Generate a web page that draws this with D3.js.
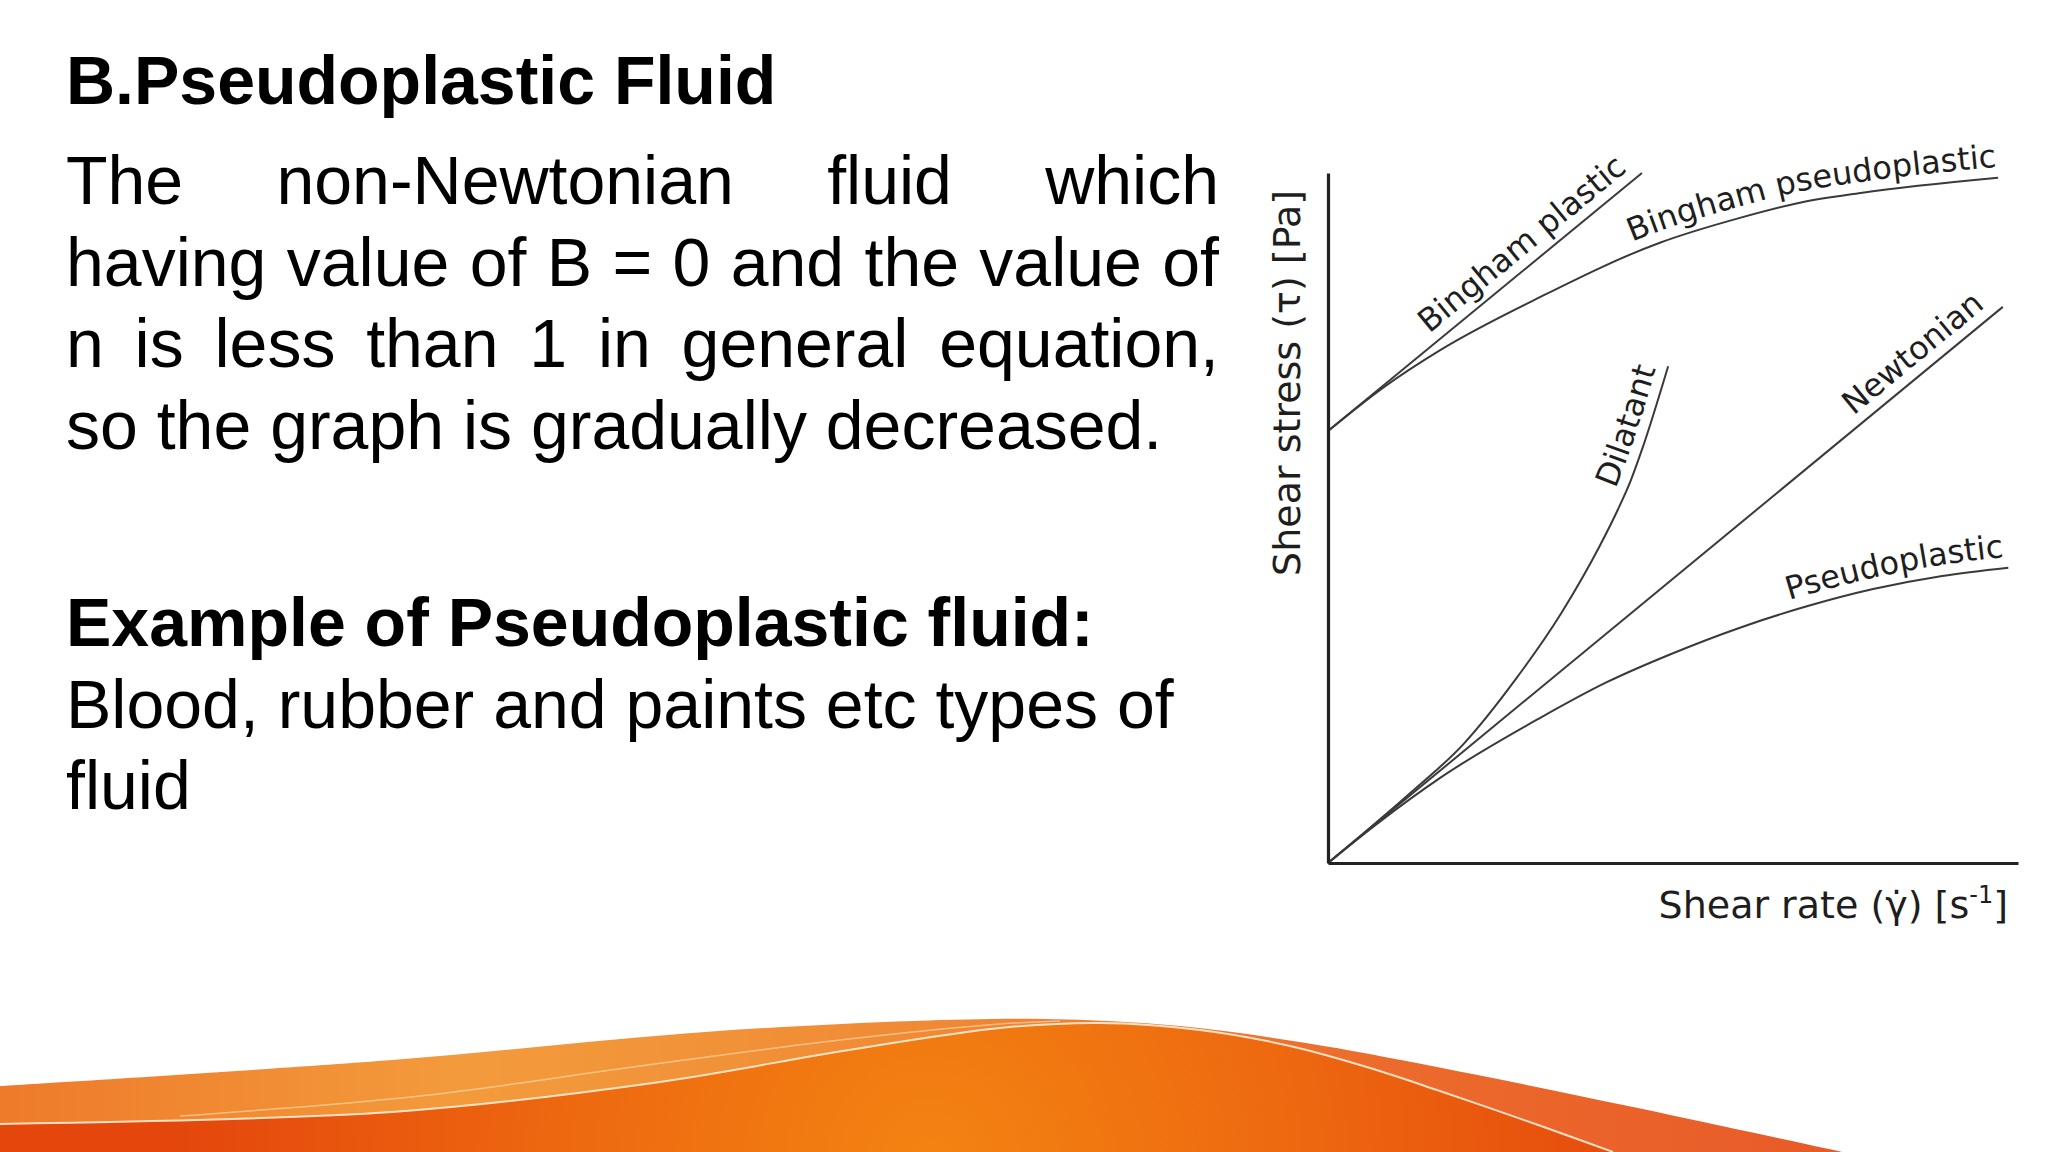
<!DOCTYPE html>
<html>
<head>
<meta charset="utf-8">
<script src="https://cdn.jsdelivr.net/npm/d3@7"></script>
<style>
    html, body { margin: 0; padding: 0; background: #fff; }
    svg { display: block; }
</style>
</head>
<body>
<svg id="slide" width="2048" height="1152"></svg>
<script>
// slide text
const titleText = "B.Pseudoplastic Fluid"
const bodyLines = [
    "The non-Newtonian fluid which",
    "having value of B = 0 and the value of",
    "n is less than 1 in general equation,",
    "so the graph is gradually decreased."
]
const exampleHeading = "Example of Pseudoplastic fluid:"
const exampleLines = ["Blood, rubber and paints etc types of", "fluid"]

// flow curves (shear rate / shear stress, no units, 0-10 both ways)
const seriesNames = ["Bingham plastic", "Bingham pseudoplastic", "Dilatant", "Newtonian", "Pseudoplastic"]
const binghamPlasticX = [0, 4.55]
const binghamPlasticY = [6.26, 10.0]
const binghamPseudoX = [0, 0.8, 1.62, 3.07, 4.81, 5.97, 6.84, 7.72, 9.71]
const binghamPseudoY = [6.26, 6.89, 7.43, 8.20, 8.99, 9.35, 9.57, 9.71, 9.93]
const dilatantX = [0, 1.20, 1.96, 2.71, 3.38, 3.93, 4.20, 4.39, 4.55, 4.93]
const dilatantY = [0, 1.02, 1.72, 2.65, 3.62, 4.58, 5.12, 5.55, 5.99, 7.20]
const newtonianX = [0, 9.78]
const newtonianY = [0, 8.06]
const pseudoX = [0, 0.7, 1.62, 3.07, 4.04, 5.0, 5.97, 6.94, 7.9, 8.9, 9.86]
const pseudoY = [0, 0.56, 1.23, 2.10, 2.62, 3.04, 3.41, 3.72, 3.97, 4.16, 4.28]
// where each curve label starts (shear rate value along the curve)
const labelStartX = [1.55, 4.45, 4.3, 7.7, 6.7]

const xLabel = "Shear rate (\u03b3\u0307) [s"
const yLabel = "Shear stress (\u03c4) [Pa]"

const svg = d3.select("#slide")
const textFont = "'Liberation Sans', Arial, sans-serif"
const chartFont = "'DejaVu Sans', Verdana, sans-serif"

// ---------- orange wave at the bottom (decoration) ----------
const defs = svg.append("defs")
const backGrad = defs.append("linearGradient").attr("id", "waveBack")
    .attr("x1", 0).attr("x2", 1).attr("y1", 0).attr("y2", 0)
backGrad.selectAll("stop")
    .data([[0, "#ee7a2a"], [0.25, "#f39b3c"], [0.5, "#f08a35"], [0.75, "#ec6b2c"], [1, "#e85a28"]])
    .join("stop").attr("offset", d => d[0]).attr("stop-color", d => d[1])
const bodyGrad = defs.append("radialGradient").attr("id", "waveBody")
    .attr("gradientUnits", "userSpaceOnUse")
    .attr("cx", 930).attr("cy", 1160).attr("r", 760)
bodyGrad.selectAll("stop")
    .data([[0, "#f38312"], [0.45, "#ee6a10"], [1, "#e4460c"]])
    .join("stop").attr("offset", d => d[0]).attr("stop-color", d => d[1])

const waveBackEdge = [[0,1086],[392,1060],[705,1032],[914,1021],[1045,1019],[1180,1026],[1306,1043],[1437,1067],[1633,1107],[1842,1152]]
const waveBodyEdge = [[0,1124],[392,1112],[653,1083],[849,1050],[1000,1028],[1100,1023],[1200,1030],[1290,1046],[1370,1068],[1437,1090],[1541,1126],[1613,1152]]
const waveThread = [[180,1116],[420,1096],[640,1066],[840,1040],[1000,1024],[1060,1021]]

const edge = d3.line().curve(d3.curveCatmullRom)
svg.append("path")
    .attr("d", edge(waveBackEdge) + "L0,1152Z")
    .attr("fill", "url(#waveBack)")
svg.append("path")
    .attr("d", edge(waveBodyEdge) + "L0,1152Z")
    .attr("fill", "url(#waveBody)")
svg.append("path")
    .attr("d", edge(waveBodyEdge))
    .attr("fill", "none").attr("stroke", "#fff4e0").attr("stroke-width", 2).attr("opacity", 0.85)
svg.append("path")
    .attr("d", edge(waveThread))
    .attr("fill", "none").attr("stroke", "#ffe2b8").attr("stroke-width", 1.5).attr("opacity", 0.6)

// ---------- left text block ----------
const textG = svg.append("g").attr("font-family", textFont).attr("font-size", 68).attr("fill", "#000")
const textLeft = 66, textRight = 1219

function writeLine(str, yb, justify, bold) {
    let t = textG.append("text").attr("y", yb).attr("font-weight", bold ? "bold" : "normal")
    if (!justify) {
        t.attr("x", textLeft).text(str)
        return
    }
    let words = str.split(" ")
    let spans = words.map(w => t.append("tspan").text(w))
    let widths = spans.map(s => s.node().getComputedTextLength())
    let gap = (textRight - textLeft - d3.sum(widths)) / (words.length - 1)
    let cx = textLeft
    spans.forEach((s, i) => {
        s.attr("x", cx)
        cx += widths[i] + gap
    })
}

writeLine(titleText, 104, false, true)
bodyLines.forEach((l, i) => writeLine(l, 204 + i * 81.5, i < bodyLines.length - 1, false))
writeLine(exampleHeading, 646, false, true)
exampleLines.forEach((l, i) => writeLine(l, 728 + i * 81, false, false))

// ---------- rheology chart ----------
const x = d3.scaleLinear().domain([0, 10]).range([1328, 2018])
const y = d3.scaleLinear().domain([0, 10]).range([863, 173])

const series = [
    {name: seriesNames[0], xs: binghamPlasticX, ys: binghamPlasticY},
    {name: seriesNames[1], xs: binghamPseudoX, ys: binghamPseudoY},
    {name: seriesNames[2], xs: dilatantX, ys: dilatantY},
    {name: seriesNames[3], xs: newtonianX, ys: newtonianY},
    {name: seriesNames[4], xs: pseudoX, ys: pseudoY}
].map((s, i) => ({...s, start: labelStartX[i], pts: s.xs.map((v, j) => [v, s.ys[j]])}))

const line = d3.line()
    .x(d => x(d[0]))
    .y(d => y(d[1]))
    .curve(d3.curveMonotoneX)

const chart = svg.append("g")

chart.selectAll(".curve")
    .data(series)
    .join("path")
    .attr("class", "curve")
    .attr("id", (d, i) => "curve" + i)
    .attr("d", d => line(d.pts))
    .attr("fill", "none")
    .attr("stroke", "#3a3a3a")
    .attr("stroke-width", 2)

// axes, no ticks
const xAxis = chart.append("g")
    .attr("transform", `translate(0, ${y(0)})`)
    .call(d3.axisBottom(x).tickValues([]).tickSizeOuter(0))
const yAxis = chart.append("g")
    .attr("transform", `translate(${x(0)}, 0)`)
    .call(d3.axisLeft(y).tickValues([]).tickSizeOuter(0))
chart.selectAll(".domain").attr("stroke", "#222").attr("stroke-width", 3.2)

// label paths: the curve moved a little to its upper side
const labelGap = 11
series.forEach((s, i) => {
    let node = d3.select("#curve" + i).node()
    let total = node.getTotalLength()
    let samples = d3.range(0, total, 2).concat([total]).map(L => node.getPointAtLength(L))
    let off = samples.map((p, k) => {
        let a = samples[Math.max(0, k - 1)], b = samples[Math.min(samples.length - 1, k + 1)]
        let dx = b.x - a.x, dy = b.y - a.y, n = Math.hypot(dx, dy) || 1
        return [p.x + dy / n * labelGap, p.y - dx / n * labelGap]
    })
    // run the label path on past the curve end so no glyph gets cut
    let e1 = samples[samples.length - 2], e2 = samples[samples.length - 1]
    let ex = e2.x - e1.x, ey = e2.y - e1.y, en = Math.hypot(ex, ey) || 1
    let last = off[off.length - 1]
    off.push([last[0] + ex / en * 80, last[1] + ey / en * 80])

    let k0 = samples.findIndex(p => p.x >= x(s.start))
    let startLen = 0
    for (let k = 1; k <= k0; k++) startLen += Math.hypot(off[k][0] - off[k - 1][0], off[k][1] - off[k - 1][1])

    defs.append("path").attr("id", "labelPath" + i).attr("d", d3.line()(off))
    chart.append("text")
        .attr("font-family", chartFont)
        .attr("font-size", 32)
        .attr("fill", "#1e1e1e")
        .append("textPath")
        .attr("href", "#labelPath" + i)
        .attr("startOffset", startLen)
        .text(s.name)
})

// axis titles
let xt = chart.append("text")
    .attr("font-family", chartFont)
    .attr("font-size", 38)
    .attr("fill", "#1e1e1e")
    .attr("text-anchor", "end")
    .attr("x", x(10) - 10)
    .attr("y", y(0) + 55)
xt.append("tspan").text(xLabel)
xt.append("tspan").attr("font-size", 24).attr("dy", -15).text("-1")
xt.append("tspan").attr("dy", 15).text("]")

chart.append("text")
    .attr("font-family", chartFont)
    .attr("font-size", 38)
    .attr("fill", "#1e1e1e")
    .attr("text-anchor", "end")
    .attr("transform", "rotate(-90)")
    .attr("x", -190)
    .attr("y", x(0) - 28)
    .text(yLabel)
</script>
</body>
</html>
